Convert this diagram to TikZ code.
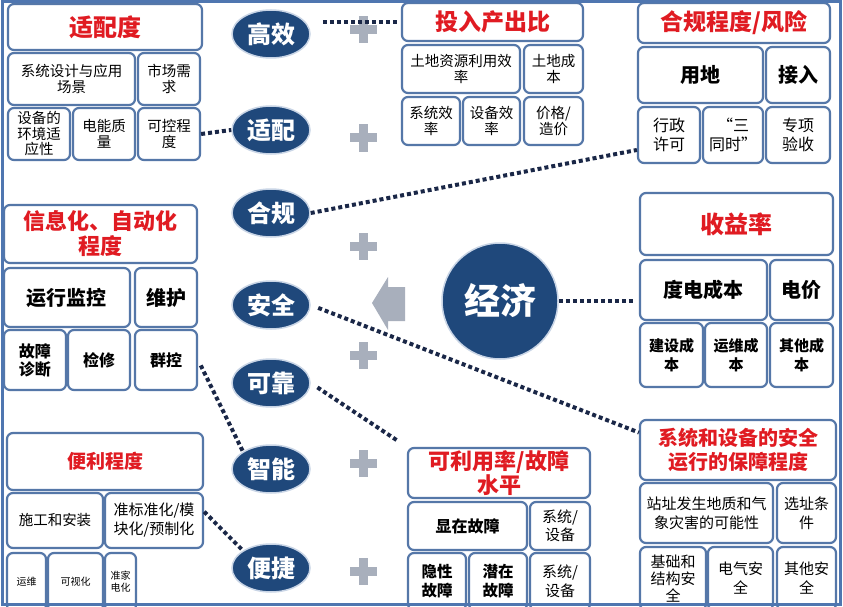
\documentclass[tikz,border=0pt]{standalone}
\usepackage{fontspec}
\setmainfont{Noto Sans CJK SC}
\usetikzlibrary{shapes.geometric}

\definecolor{boxblue}{HTML}{5577A8}
\definecolor{titlered}{HTML}{E01B22}
\definecolor{ovalblue}{HTML}{1F487B}
\definecolor{ovalrim}{HTML}{C9D5E6}
\definecolor{dotnavy}{HTML}{1A2747}
\definecolor{plusgray}{HTML}{A8AFBC}
\definecolor{frameblue}{HTML}{4F76B0}

\tikzset{
	box/.style={draw=boxblue, line width=2.2pt, rounded corners=6pt, fill=white, align=center, inner sep=0pt, font=\fontsize{14.5}{16.5}\selectfont},
	ttl/.style={box, text=titlered, font=\bfseries\fontsize{22}{25}\selectfont},
	bigtxt/.style={font=\bfseries\fontsize{20}{22}\selectfont},
	midtxt/.style={font=\bfseries\fontsize{16}{18}\selectfont},
	smalltxt/.style={font=\fontsize{10}{12}\selectfont},
	oval/.style={ellipse, fill=ovalblue, draw=ovalrim, line width=1.5pt, text=white, minimum width=78pt, minimum height=48pt, inner sep=0pt, font=\bfseries\fontsize{24}{26}\selectfont},
	dotline/.style={dotnavy, line width=4pt, dash pattern=on 4pt off 3pt},
}

\begin{document}
\begin{tikzpicture}[x=1pt, y=-1pt]
				\clip (0,0) rectangle (843,607);
				\fill[white] (0,0) rectangle (843,607);
				% 适配度
				\node[ttl, minimum width=194pt, minimum height=46pt, font=\bfseries\fontsize{24}{26}\selectfont] (SPD) at (105,27) {适配度};
				\node[box, minimum width=127pt, minimum height=52pt] (SPD1) at (71.5,79) {系统设计与应用\\场景};
				\node[box, minimum width=62pt, minimum height=52pt] (SPD2) at (169,79) {市场需\\求};
				\node[box, minimum width=62pt, minimum height=52pt, font=\fontsize{14.5}{15.5}\selectfont] (SPD3) at (39,134) {设备的\\环境适\\应性};
				\node[box, minimum width=62pt, minimum height=52pt] (SPD4) at (104,134) {电能质\\量};
				\node[box, minimum width=62pt, minimum height=52pt] (SPD5) at (169,134) {可控程\\度};
				% 投入产出比
				\node[ttl, minimum width=181pt, minimum height=38pt, font=\bfseries\fontsize{23}{25}\selectfont] (TR) at (492.5,22) {投入产出比};
				\node[box, minimum width=118pt, minimum height=48pt] (TR1) at (461,69) {土地资源利用效\\率};
				\node[box, minimum width=59pt, minimum height=48pt] (TR2) at (553.5,69) {土地成\\本};
				\node[box, minimum width=58pt, minimum height=48pt] (TR3) at (431,121) {系统效\\率};
				\node[box, minimum width=57pt, minimum height=48pt] (TR4) at (491.5,121) {设备效\\率};
				\node[box, minimum width=59pt, minimum height=48pt] (TR5) at (553.5,121) {价格/\\造价};
				% 合规程度/风险
				\node[ttl, minimum width=192pt, minimum height=40pt, font=\bfseries\fontsize{23}{25}\selectfont] (HGD) at (734,23) {合规程度/风险};
				\node[box, bigtxt, minimum width=125pt, minimum height=56pt] (HGD1) at (700.5,75) {用地};
				\node[box, bigtxt, minimum width=64pt, minimum height=56pt] (HGD2) at (798,75) {接入};
				\node[box, minimum width=62pt, minimum height=56pt, font=\fontsize{16}{19}\selectfont] (HGD3) at (669,135) {行政\\许可};
				\node[box, minimum width=60pt, minimum height=56pt, font=\fontsize{16}{19}\selectfont] (HGD4) at (733,135) {“三\\同时”};
				\node[box, minimum width=64pt, minimum height=56pt, font=\fontsize{16}{19}\selectfont] (HGD5) at (798,135) {专项\\验收};
				% 信息化、自动化程度
				\node[ttl, minimum width=193pt, minimum height=58pt] (XXH) at (100.5,234) {信息化、自动化\\程度};
				\node[box, bigtxt, minimum width=126pt, minimum height=59pt] (XXH1) at (67,297.5) {运行监控};
				\node[box, bigtxt, minimum width=62pt, minimum height=59pt] (XXH2) at (166,297.5) {维护};
				\node[box, midtxt, minimum width=62pt, minimum height=60pt] (XXH3) at (35,360) {故障\\诊断};
				\node[box, midtxt, minimum width=62pt, minimum height=60pt] (XXH4) at (99,360) {检修};
				\node[box, midtxt, minimum width=62pt, minimum height=60pt] (XXH5) at (166,360) {群控};
				% 收益率
				\node[ttl, minimum width=193pt, minimum height=62pt, font=\bfseries\fontsize{24}{26}\selectfont] (SYL) at (736.5,224) {收益率};
				\node[box, bigtxt, minimum width=127pt, minimum height=60pt] (SYL1) at (703.5,290) {度电成本};
				\node[box, bigtxt, minimum width=63pt, minimum height=60pt] (SYL2) at (801.5,290) {电价};
				\node[box, minimum width=63pt, minimum height=64pt, font=\bfseries\fontsize{15}{19}\selectfont] (SYL3) at (671.5,355) {建设成\\本};
				\node[box, minimum width=62pt, minimum height=64pt, font=\bfseries\fontsize{15}{19}\selectfont] (SYL4) at (736,355) {运维成\\本};
				\node[box, minimum width=63pt, minimum height=64pt, font=\bfseries\fontsize{15}{19}\selectfont] (SYL5) at (801.5,355) {其他成\\本};
				% 便利程度
				\node[ttl, minimum width=196pt, minimum height=57pt, font=\bfseries\fontsize{19}{22}\selectfont] (BLD) at (105,461.5) {便利程度};
				\node[box, minimum width=96pt, minimum height=55pt] (BLD1) at (55,520.5) {施工和安装};
				\node[box, minimum width=98pt, minimum height=55pt, font=\fontsize{15}{19}\selectfont] (BLD2) at (154,520.5) {准标准化/模\\块化/预制化};
				\node[box, smalltxt, minimum width=39pt, minimum height=58pt] (BLD3) at (26.5,582) {运维};
				\node[box, smalltxt, minimum width=55pt, minimum height=58pt] (BLD4) at (75.5,582) {可视化};
				\node[box, smalltxt, minimum width=31pt, minimum height=58pt] (BLD5) at (120.5,582) {准家\\电化};
				% 可利用率/故障水平
				\node[ttl, minimum width=182pt, minimum height=50pt, font=\bfseries\fontsize{22}{24}\selectfont] (KLY) at (499,473) {可利用率/故障\\水平};
				\node[box, midtxt, minimum width=119pt, minimum height=48pt] (KLY1) at (467.5,526) {显在故障};
				\node[box, minimum width=60pt, minimum height=48pt, font=\fontsize{15}{18}\selectfont] (KLY2) at (560,526) {系统/\\设备};
				\node[box, minimum width=58pt, minimum height=57pt, font=\bfseries\fontsize{15.5}{19}\selectfont] (KLY3) at (437,581.5) {隐性\\故障};
				\node[box, minimum width=58pt, minimum height=57pt, font=\bfseries\fontsize{15.5}{19}\selectfont] (KLY4) at (498,581.5) {潜在\\故障};
				\node[box, minimum width=60pt, minimum height=57pt, font=\fontsize{15}{19}\selectfont] (KLY5) at (560,581.5) {系统/\\设备};
				% 系统和设备的安全运行的保障程度
				\node[ttl, minimum width=196pt, minimum height=60pt, font=\bfseries\fontsize{20}{24}\selectfont] (BZ) at (738,450) {系统和设备的安全\\运行的保障程度};
				\node[box, minimum width=133pt, minimum height=60pt, font=\fontsize{15}{19}\selectfont] (BZ1) at (706.5,513) {站址发生地质和气\\象灾害的可能性};
				\node[box, minimum width=59pt, minimum height=60pt, font=\fontsize{15}{19}\selectfont] (BZ2) at (806.5,513) {选址条\\件};
				\node[box, minimum width=66pt, minimum height=63pt, font=\fontsize{15}{17}\selectfont] (BZ3) at (673,578.5) {基础和\\结构安\\全};
				\node[box, minimum width=65pt, minimum height=63pt, font=\fontsize{15}{19}\selectfont] (BZ4) at (740.5,578.5) {电气安\\全};
				\node[box, minimum width=59pt, minimum height=63pt, font=\fontsize{15}{19}\selectfont] (BZ5) at (806.5,578.5) {其他安\\全};
				% 七个要求和经济
				\node[oval] (GX) at (271,34) {高效};
				\node[oval] (SP) at (271,130) {适配};
				\node[oval] (HG) at (271,213) {合规};
				\node[oval] (AQ) at (271,305) {安全};
				\node[oval] (KK) at (271,383) {可靠};
				\node[oval] (ZN) at (271,469) {智能};
				\node[oval] (BJ) at (271,568) {便捷};
				\node[oval, circle, minimum size=116pt, font=\bfseries\fontsize{36}{38}\selectfont] (JJ) at (500,301) {经济};
				\foreach \y in {30,138,246,355,463,571}{
					\fill[plusgray] (350,\y-4.5) rectangle (377,\y+4.5);
					\fill[plusgray] (359,\y-13.5) rectangle (368,\y+13.5);
				}
				\fill[plusgray] (372,303) -- (388,277) -- (388,287) -- (405,287) -- (405,321) -- (388,321) -- (388,330) -- cycle;
				% 连线
				\draw[dotline, shorten <=12pt, shorten >=4pt] (GX.east |- TR.west) -- (TR.west);
				\draw[dotline] (SPD5.east) -- (SP.west);
				\draw[dotline] (HG.east) -- (HGD3.205);
				\draw[dotline, shorten >=4pt] (JJ.east) -- (JJ.east -| SYL1.west);
				\draw[dotline, shorten <=8pt] (AQ.east) -- (BZ.170);
				\draw[dotline, shorten <=8pt, shorten >=10pt] (KK.east) -- (KLY.north west);
				\draw[dotline, shorten <=6pt] (XXH5.east) -- (ZN.north west);
				\draw[dotline] (BLD2.10) -- (BJ.north west);
				\draw[frameblue, line width=3pt] (2,2) rectangle (840,604);
			\end{tikzpicture}
\end{document}
